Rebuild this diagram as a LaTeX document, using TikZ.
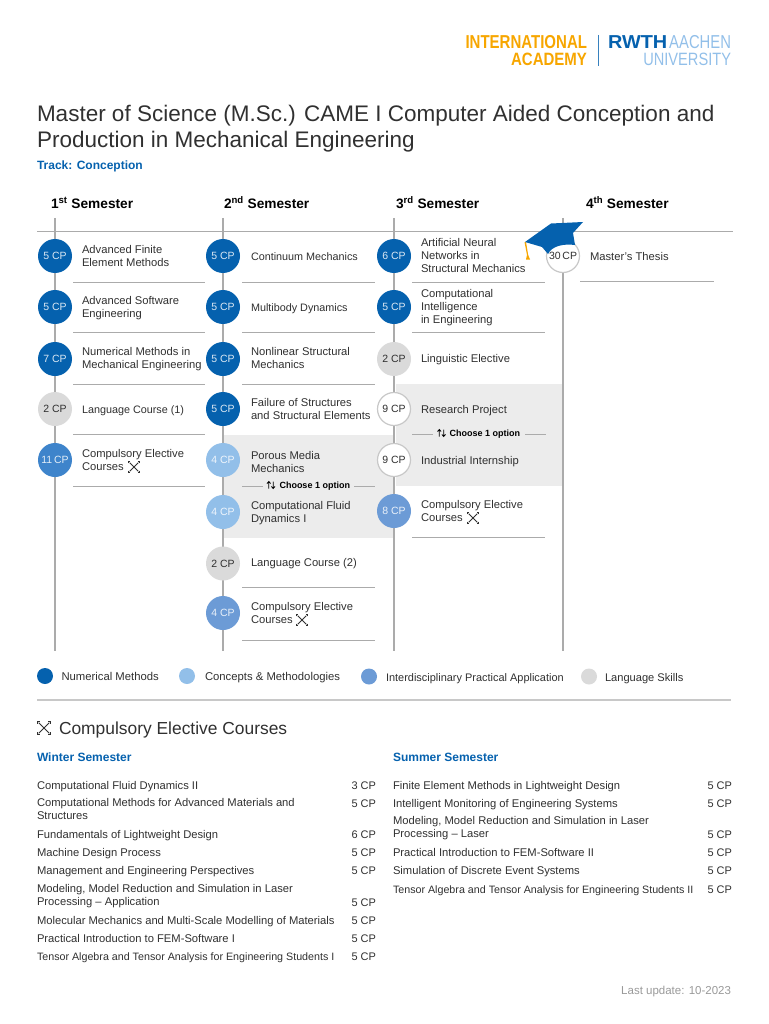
\documentclass[tikz,border=0pt]{standalone}
\usepackage{fontspec}
\setmainfont{Liberation Sans}
\definecolor{dkblue}{HTML}{0561AE}
\definecolor{ltblue}{HTML}{92BFE9}
\definecolor{mdblue}{HTML}{6C9BD6}
\definecolor{elblue}{HTML}{3E84CB}
\definecolor{lgrey}{HTML}{DADADA}
\definecolor{panel}{HTML}{ECECEC}
\definecolor{rule}{HTML}{ABABAB}
\definecolor{txt}{HTML}{303030}
\definecolor{orng}{HTML}{F7A600}
\tikzset{
  base/.style={inner sep=0pt,outer sep=0pt,text=txt,font=\fontsize{11.2}{13}\selectfont},
  st/.style={base,execute at begin node=\strut,execute at end node=\strut,yshift=#1},
  lab/.style={st=-1.4pt,anchor=west,align=left},
  cpc/.style={circle,minimum size=34pt,inner sep=0pt,font=\fontsize{10.5}{12}\selectfont},
  cdark/.style={cpc,fill=dkblue,text=white!85!dkblue},
  clight/.style={cpc,fill=ltblue,text=white!85!ltblue},
  cmid/.style={cpc,fill=mdblue,text=white!85!mdblue},
  cel/.style={cpc,fill=elblue,text=white!85!elblue},
  cgrey/.style={cpc,fill=lgrey,text=txt},
  cwhite/.style={cpc,fill=white,draw=lgrey!80!gray,line width=1.2pt,text=txt,minimum size=33pt},
  sep/.style={draw=rule,line width=.9pt},
  spine/.style={draw=rule,line width=1.1pt},
  sem/.style={st=-1.9pt,anchor=west,text=black,font=\fontsize{13.7}{15}\selectfont\bfseries},
  pick/.style={st=-1pt,text=black,font=\fontsize{9}{11}\selectfont\bfseries},
  legtxt/.style={st=-1.4pt,anchor=west,font=\fontsize{11.3}{13}\selectfont},
  legdot/.style={circle,minimum size=16pt,inner sep=0pt},
  head/.style={st=-1.5pt,anchor=west,text=dkblue,font=\fontsize{12}{14}\selectfont\bfseries},
  item/.style={st=-1.4pt,anchor=west,align=left,font=\fontsize{11.2}{13}\selectfont},
  tight/.style={font=\fontsize{10.7}{13}\selectfont},
  narrow/.style={font=\fontsize{10.8}{13}\selectfont},
  cp/.style={st=-1.4pt,anchor=east,font=\fontsize{11}{13}\selectfont},
  ttl/.style={st=-2.8pt,anchor=west,font=\fontsize{22.5}{26}\selectfont},
  logo/.style={base,font=\fontsize{17}{16.5}\selectfont},
}
\newcommand{\swapicon}[3]{%
  \begin{scope}[shift={(#1,#2)},scale=#3,line width=.9pt,draw=txt]
    \draw (-4.6,-4.6) -- (4.6,4.6) (4.6,-4.6) -- (-4.6,4.6);
    \draw (-6,-3.8) -- (-6,-6) -- (-3.8,-6) (6,-3.8) -- (6,-6) -- (3.8,-6);
    \draw (-6,3.8) -- (-6,6) -- (-3.8,6) (6,3.8) -- (6,6) -- (3.8,6);
  \end{scope}}
\newcommand{\updown}[2]{%
  \begin{scope}[shift={(#1,#2)},line width=.8pt,draw=black]
    \draw (-2.2,3.5) -- (-2.2,-3.5) (-4,-1.5) -- (-2.2,-3.5) -- (-.4,-1.5);
    \draw (2.2,-3.5) -- (2.2,3.5) (.4,1.5) -- (2.2,3.5) -- (4,1.5);
  \end{scope}}
\begin{document}
\begin{tikzpicture}[x=1pt,y=-1pt]
\useasboundingbox (0,0) rectangle (768,1024);
% logo
\node[logo,anchor=east,text=orng,font=\fontsize{17}{16.5}\selectfont\bfseries] (ia1) at (587,42.5) {\scalebox{.883}[1.1]{INTERNATIONAL}};
\node[logo,anchor=east,text=orng,font=\fontsize{17}{16.5}\selectfont\bfseries] (ia2) at (587,59) {\scalebox{.883}[1.05]{ACADEMY}};
\draw[dkblue!80!white,line width=1pt] (598,35) -- (598,66);
\node[logo,anchor=west,text=dkblue,font=\fontsize{17}{16.5}\selectfont\bfseries] (rw) at (608,42.5) {\scalebox{1.17}[1.1]{RWTH}};
\node[logo,anchor=east,text=ltblue] (aa) at (731,42.5) {\scalebox{.872}[1.1]{AACHEN}};
\node[logo,anchor=east,text=ltblue] (un) at (731,59) {\scalebox{.86}[1.05]{UNIVERSITY}};
% title
\node[ttl] (t1) at (37,114) {Master of Science (M.Sc.) CAME I Computer Aided Conception and};
\node[ttl] (t2) at (37,140) {Production in Mechanical Engineering};
\node[head] (track) at (37,165.5) {Track: Conception};
% panels
\fill[panel] (223,435) rectangle (393,538);
\fill[panel] (396,384) rectangle (563,486);
% semester heads
\node[sem] (s1) at (51,203) {1\textsuperscript{st} Semester};
\node[sem] (s2) at (224,203) {2\textsuperscript{nd} Semester};
\node[sem] (s3) at (396,203) {3\textsuperscript{rd} Semester};
\node[sem] (s4) at (586,203) {4\textsuperscript{th} Semester};
\draw[sep] (37,231) -- (733,231);
% spines
\foreach \n/\x in {a/55,b/223,c/394,d/563}{
  \coordinate (\n top) at (\x,218);
  \coordinate (\n bot) at (\x,651);
  \draw[spine] (\n top) -- (\n bot);
}
% separators
\foreach \y in {282,332,384,434,486} \draw[sep] (73,\y) -- (205,\y);
\foreach \y in {282,332,384,587,640} \draw[sep] (242,\y) -- (375,\y);
\foreach \y in {282,332,537} \draw[sep] (412,\y) -- (545,\y);
\draw[sep] (580,281.5) -- (714,281.5);
% column 1
\node[cdark] (a1) at (55,256) {5 CP};
\node[lab] at (82,256) (la1) {Advanced Finite\\Element Methods};
\node[cdark] (a2) at (55,307) {5 CP};
\node[lab] at (82,307) (la2) {Advanced Software\\Engineering};
\node[cdark] (a3) at (55,359) {7 CP};
\node[lab] at (82,358) (la3) {Numerical Methods in\\Mechanical Engineering};
\node[cgrey] (a4) at (55,409) {2 CP};
\node[lab,narrow] at (82,409.5) (la4) {Language Course (1)};
\node[cel] (a5) at (55,460) {11\,CP};
\node[lab] at (82,460) (la5) {Compulsory Elective\\Courses};
\swapicon{134}{467}{.95}
% column 2
\node[cdark] (b1) at (223,256) {5 CP};
\node[lab,narrow] at (251,256) (lb1) {Continuum Mechanics};
\node[cdark] (b2) at (223,307) {5 CP};
\node[lab,narrow] at (251,307) (lb2) {Multibody Dynamics};
\node[cdark] (b3) at (223,359) {5 CP};
\node[lab] at (251,358) (lb3) {Nonlinear Structural\\Mechanics};
\node[cdark] (b4) at (223,409) {5 CP};
\node[lab] at (251,409) (lb4) {Failure of Structures\\and Structural Elements};
\node[clight] (b5) at (223,460) {4 CP};
\node[lab] at (251,462.5) (lb5) {Porous Media\\Mechanics};
\node[clight] (b6) at (223,512) {4 CP};
\node[lab] at (251,512) (lb6) {Computational Fluid\\Dynamics I};
\node[cgrey] (b7) at (223,563.5) {2 CP};
\node[lab] at (251,562) (lb7) {Language Course (2)};
\node[cmid] (b8) at (223,613) {4 CP};
\node[lab] at (251,613) (lb8) {Compulsory Elective\\Courses};
\swapicon{302}{620}{.95}
% column 3
\node[cdark] (c1) at (394,256) {6 CP};
\node[lab] at (421,256) (lc1) {Artificial Neural\\Networks in\\Structural Mechanics};
\node[cdark] (c2) at (394,307) {5 CP};
\node[lab] at (421,307) (lc2) {Computational\\Intelligence\\in Engineering};
\node[cgrey] (c3) at (394,359) {2 CP};
\node[lab] at (421,358) (lc3) {Linguistic Elective};
\node[cwhite] (c4) at (394,409) {9 CP};
\node[lab] at (421,409.5) (lc4) {Research Project};
\node[cwhite] (c5) at (394,460) {9 CP};
\node[lab] at (421,460) (lc5) {Industrial Internship};
\node[cmid] (c6) at (394,511) {8 CP};
\node[lab] at (421,511) (lc6) {Compulsory Elective\\Courses};
\swapicon{473}{518}{.95}
% column 4
\node[cwhite] (d1) at (563,256) {30\,CP};
\node[lab] at (590,256) (ld1) {Master's Thesis};
% hat
\fill[orng] (524.5,242) -- (526,242) -- (528.2,255) -- (530,259.5) -- (526,259.5) -- (527,255) -- cycle;
\fill[dkblue] (525,242) -- (551,223.5) -- (583,222) -- (573,233) -- (575,245)
  .. controls (563,243.5) and (552,246) .. (548,254) -- (542,247) -- cycle;
% choose 1 option
\draw[sep,line width=.7pt] (242,486) -- (263,486) (354,486) -- (375,486);
\updown{271}{485}
\node[pick,anchor=west] (p1) at (279.5,485) {Choose 1 option};
\draw[sep,line width=.7pt] (412,434) -- (433,434) (525,434) -- (546,434);
\updown{441.5}{433}
\node[pick,anchor=west] (p2) at (449.5,433) {Choose 1 option};
% legend
\node[legdot,fill=dkblue] (k1) at (45,676) {};
\node[legtxt] (kt1) at (61.5,676) {Numerical Methods};
\node[legdot,fill=ltblue] (k2) at (187,676) {};
\node[legtxt] (kt2) at (205,676) {Concepts \& Methodologies};
\node[legdot,fill=mdblue] (k3) at (369,676.5) {};
\node[legtxt,font=\fontsize{10.95}{13}\selectfont] (kt3) at (386,677) {Interdisciplinary Practical Application};
\node[legdot,fill=lgrey] (k4) at (589,676.5) {};
\node[legtxt,font=\fontsize{11.1}{13}\selectfont] (kt4) at (605,677) {Language Skills};
\draw[draw=lgrey!80!gray,line width=1.1pt] (37,700) -- (731,700);
% electives
\swapicon{44}{728}{1.15}
\node[st=-2.1pt,anchor=west,font=\fontsize{17.4}{20}\selectfont] (ec) at (59,728) {Compulsory Elective Courses};
\node[head] (win) at (37,757.5) {Winter Semester};
\node[head] (sum) at (393,757.5) {Summer Semester};
\node[item] (w1) at (37,785) {Computational Fluid Dynamics II}; \node[cp] (wc1) at (376,785) {3 CP};
\node[item] (w2) at (37,809.5) {Computational Methods for Advanced Materials and\\Structures}; \node[cp] (wc2) at (376,803) {5 CP};
\node[item] (w3) at (37,834) {Fundamentals of Lightweight Design}; \node[cp] (wc3) at (376,834) {6 CP};
\node[item] (w4) at (37,852) {Machine Design Process}; \node[cp] (wc4) at (376,852) {5 CP};
\node[item] (w5) at (37,870) {Management and Engineering Perspectives}; \node[cp] (wc5) at (376,870) {5 CP};
\node[item] (w6) at (37,895.5) {Modeling, Model Reduction and Simulation in Laser\\Processing -- Application}; \node[cp] (wc6) at (376,902) {5 CP};
\node[item] (w7) at (37,920) {Molecular Mechanics and Multi-Scale Modelling of Materials}; \node[cp] (wc7) at (376,920) {5 CP};
\node[item] (w8) at (37,938) {Practical Introduction to FEM-Software I}; \node[cp] (wc8) at (376,938) {5 CP};
\node[item,tight] (w9) at (37,956) {Tensor Algebra and Tensor Analysis for Engineering Students I}; \node[cp] (wc9) at (376,956) {5 CP};
\node[item] (r1) at (393,785) {Finite Element Methods in Lightweight Design}; \node[cp] (rc1) at (732,785) {5 CP};
\node[item] (r2) at (393,803) {Intelligent Monitoring of Engineering Systems}; \node[cp] (rc2) at (732,803) {5 CP};
\node[item] (r3) at (393,827.5) {Modeling, Model Reduction and Simulation in Laser\\Processing -- Laser}; \node[cp] (rc3) at (732,834) {5 CP};
\node[item] (r4) at (393,852) {Practical Introduction to FEM-Software II}; \node[cp] (rc4) at (732,852) {5 CP};
\node[item] (r5) at (393,870) {Simulation of Discrete Event Systems}; \node[cp] (rc5) at (732,870) {5 CP};
\node[item,tight] (r6) at (393,889) {Tensor Algebra and Tensor Analysis for Engineering Students II}; \node[cp] (rc6) at (732,889) {5 CP};
\node[st=-1.4pt,anchor=east,text=gray!80!white,font=\fontsize{11.5}{13}\selectfont] (upd) at (731,990) {Last update: 10-2023};
\end{tikzpicture}
\end{document}
